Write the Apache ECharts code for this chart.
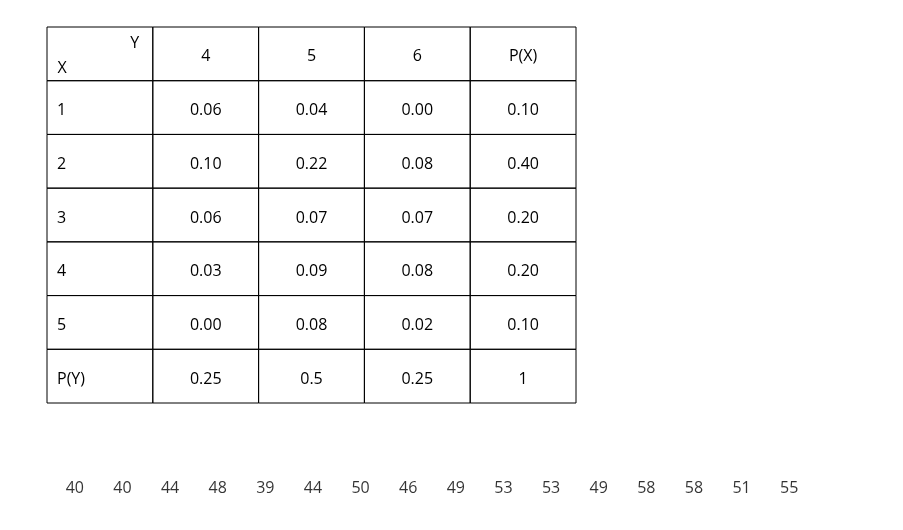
<!DOCTYPE html>
<html><head><meta charset="utf-8">
<script src="https://cdn.jsdelivr.net/npm/echarts@6/dist/echarts.min.js"></script>
<style>html,body{margin:0;padding:0;background:#fff}#c{width:903px;height:530px}</style>
</head><body><div id="c"></div>
<script>
const colHeaders = ['4', '5', '6', 'P(X)'];
const rowLabels = ['1', '2', '3', '4', '5', 'P(Y)'];
const probs = [
  ['0.06', '0.04', '0.00', '0.10'],
  ['0.10', '0.22', '0.08', '0.40'],
  ['0.06', '0.07', '0.07', '0.20'],
  ['0.03', '0.09', '0.08', '0.20'],
  ['0.00', '0.08', '0.02', '0.10'],
  ['0.25', '0.5', '0.25', '1']
];
const samples = [40, 40, 44, 48, 39, 44, 50, 46, 49, 53, 53, 49, 58, 58, 51, 55];

const FONT = '"Open Sans", sans-serif';
const cells = [];
cells.push([0, 0, '']);
colHeaders.forEach((h, i) => cells.push([i + 1, 0, h]));
rowLabels.forEach((r, j) => {
  cells.push([0, j + 1, r]);
  probs[j].forEach((v, i) => cells.push([i + 1, j + 1, v]));
});

const chart = echarts.init(document.getElementById('c'));
chart.setOption({
  animation: false,
  grid: [
    {left: 47, top: 27, width: 529, height: 376},
    {left: 51, top: 470, width: 762, height: 36}
  ],
  xAxis: [
    {gridIndex: 0, type: 'category', data: [0,1,2,3,4], show: false},
    {gridIndex: 1, type: 'category', data: samples.map((_, i) => i), show: false}
  ],
  yAxis: [
    {gridIndex: 0, type: 'category', data: [0,1,2,3,4,5,6], inverse: true, show: false},
    {gridIndex: 1, type: 'value', min: 0, max: 1, show: false}
  ],
  series: [
    {
      type: 'custom', xAxisIndex: 0, yAxisIndex: 0, data: cells,
      renderItem(params, api) {
        const c = api.value(0), r = api.value(1);
        const p = api.coord([c, r]);
        const s = api.size([1, 1]);
        const x = p[0] - s[0] / 2, y = p[1] - s[1] / 2;
        const children = [{
          type: 'rect', shape: {x, y, width: s[0], height: s[1]},
          style: {fill: 'none', stroke: '#000', lineWidth: 1}
        }];
        const txt = cells[params.dataIndex][2];
        const ts = {fill: '#000', font: '16px ' + FONT, textVerticalAlign: 'middle', verticalAlign: 'middle'};
        if (c === 0 && r === 0) {
          children.push({type: 'text', style: Object.assign({}, ts, {text: 'Y', x: x + s[0] - 18, y: y + 16, align: 'center'})});
          children.push({type: 'text', style: Object.assign({}, ts, {text: 'X', x: x + 15, y: y + 41, align: 'center'})});
        } else if (c === 0) {
          children.push({type: 'text', style: Object.assign({}, ts, {text: txt, x: x + 10, y: p[1] + 3, align: 'left'})});
        } else {
          children.push({type: 'text', style: Object.assign({}, ts, {text: txt, x: p[0], y: p[1] + 3, align: 'center'})});
        }
        return {type: 'group', children};
      }
    },
    {
      type: 'scatter', xAxisIndex: 1, yAxisIndex: 1, symbolSize: 0,
      data: samples.map((v, i) => [i, 0.5, v]),
      label: {show: true, position: 'inside', formatter: p => String(p.data[2]), color: '#000', textBorderWidth: 0, fontSize: 16, fontFamily: FONT}
    }
  ]
});
</script></body></html>
